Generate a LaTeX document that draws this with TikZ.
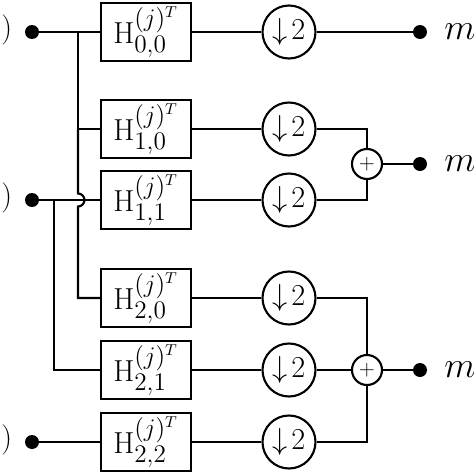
\documentclass[tikz,border=0pt]{standalone}
\usepackage{tikz}
\usetikzlibrary{positioning, calc}
\tikzstyle{filt} = [draw, line width=1.2pt, minimum width=1.8cm, minimum height=1.16cm, inner sep=0pt, font=\fontsize{19}{22}\selectfont]
\tikzstyle{down} = [draw, circle, line width=1.2pt, minimum size=1.06cm, inner sep=0pt, font=\fontsize{17}{20}\selectfont]
\tikzstyle{adder} = [draw, circle, line width=1.2pt, minimum size=0.6cm, inner sep=0pt, font=\large]
\tikzstyle{dot} = [fill, circle, minimum size=0.28cm, inner sep=0pt]
\tikzstyle{wire} = [line width=1.2pt]
\tikzstyle{outlbl} = [font=\huge, inner sep=0pt, anchor=west]
\tikzstyle{inlbl} = [font=\LARGE, inner sep=0pt, anchor=west]
\newcommand{\Hfilt}[2]{$\mathrm{H}^{(j)^{T}}_{#1,#2}$}
\newcommand{\dtwo}{$\downarrow\!2$}

\begin{document}
\begin{tikzpicture}[x=0.02cm, y=-0.02cm]
    \useasboundingbox (0,0) rectangle (474,474);

    % inputs
    \node[dot] (in0) at (32,32) {};
    \node[dot] (in1) at (32,200) {};
    \node[dot] (in2) at (32,442) {};
    \node[inlbl] (x0) at (1,30) {)};
    \node[inlbl] (x1) at (1,198) {)};
    \node[inlbl] (x2) at (1,440) {)};

    % filters
    \node[filt] (h00) at (146,32) {\Hfilt00};
    \node[filt] (h10) at (146,129) {\Hfilt10};
    \node[filt] (h11) at (146,200) {\Hfilt11};
    \node[filt] (h20) at (146,298) {\Hfilt20};
    \node[filt] (h21) at (146,370) {\Hfilt21};
    \node[filt] (h22) at (146,442) {\Hfilt22};

    % downsamplers
    \node[down] (d00) at (289,32) {\dtwo};
    \node[down] (d10) at (289,129) {\dtwo};
    \node[down] (d11) at (289,200) {\dtwo};
    \node[down] (d20) at (289,298) {\dtwo};
    \node[down] (d21) at (289,370) {\dtwo};
    \node[down] (d22) at (289,442) {\dtwo};

    % adders and outputs
    \node[adder] (p1) at (367,164) {$+$};
    \node[adder] (p2) at (367,370) {$+$};
    \node[dot] (o0) at (420,32) {};
    \node[dot] (o1) at (420,164) {};
    \node[dot] (o2) at (420,370) {};
    \node[outlbl] (m0) at (444,32) {$m$};
    \node[outlbl] (m1) at (444,164) {$m$};
    \node[outlbl] (m2) at (444,370) {$m$};

    % wiring on the input side
    \coordinate (j0) at (78,32);
    \coordinate (j1) at (54,200);
    \draw[wire] (in0) -- (h00);
    \draw[wire] (j0) -- (j0 |- h10) -- (h10);
    \draw[wire] (j0 |- h10) -- ([yshift=0.13cm]j0 |- h11) arc[start angle=90, end angle=-90, radius=0.13cm] -- (j0 |- h20) -- (h20);
    \draw[wire] (in1) -- (h11);
    \draw[wire] (j1) -- (j1 |- h21) -- (h21);
    \draw[wire] (in2) -- (h22);

    % filters to downsamplers
    \draw[wire] (h00) -- (d00);
    \draw[wire] (h10) -- (d10);
    \draw[wire] (h11) -- (d11);
    \draw[wire] (h20) -- (d20);
    \draw[wire] (h21) -- (d21);
    \draw[wire] (h22) -- (d22);

    % output side
    \draw[wire] (d00) -- (o0);
    \draw[wire] (d10) -| (p1);
    \draw[wire] (d11) -| (p1);
    \draw[wire] (p1) -- (o1);
    \draw[wire] (d20) -| (p2);
    \draw[wire] (d21) -- (p2);
    \draw[wire] (d22) -| (p2);
    \draw[wire] (p2) -- (o2);
\end{tikzpicture}
\end{document}
